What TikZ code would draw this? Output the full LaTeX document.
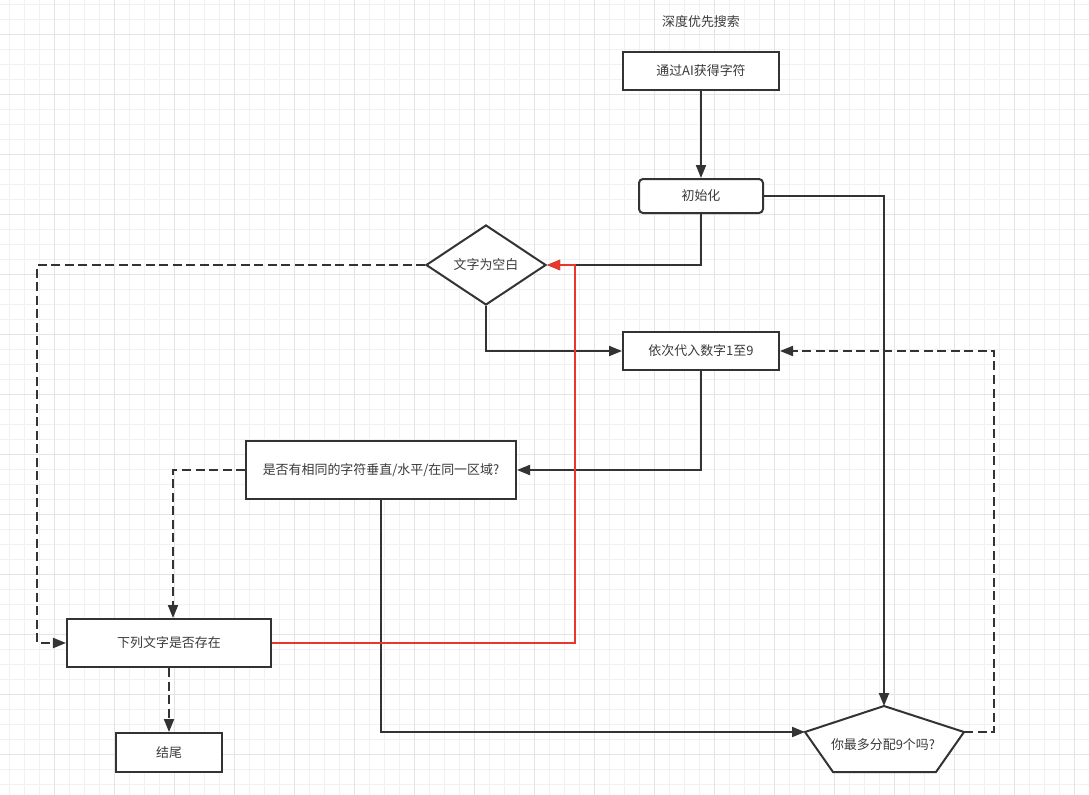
\documentclass[tikz,border=0pt]{standalone}
\usepackage{fontspec}
\setmainfont{Noto Sans CJK SC}
\usetikzlibrary{arrows.meta,shapes.geometric}
\definecolor{ink}{HTML}{333333}
\definecolor{txt}{HTML}{3A3A3A}
\definecolor{redline}{HTML}{E8382E}
\definecolor{gminor}{HTML}{F1F1F1}
\definecolor{gmajor}{HTML}{E4E4E4}
\tikzset{
  box/.style={draw=ink, line width=2bp, fill=white, text=txt, font=\fontsize{13}{15}\selectfont, inner sep=0pt},
  conn/.style={draw=ink, line width=2bp, -{Triangle[length=13bp,width=10bp]}},
  dconn/.style={conn, dash pattern=on 9bp off 4.5bp},
  rconn/.style={draw=redline, line width=2bp, -{Triangle[length=13bp,width=10bp]}},
  lbl/.style={text=txt, font=\fontsize{13}{15}\selectfont, inner sep=0pt},
}
\begin{document}
\begin{tikzpicture}[x=1bp,y=-1bp]
\useasboundingbox (0,0) rectangle (1089,795);
\fill[white] (0,0) rectangle (1089,795);
% grid
\foreach \k in {0,...,71} \draw[gminor, line width=1bp] ({9.5+15*\k},0) -- ({9.5+15*\k},795);
\foreach \k in {0,...,52} \draw[gminor, line width=1bp] (0,{4.5+15*\k}) -- (1089,{4.5+15*\k});
\foreach \k in {0,...,17} \draw[gmajor, line width=1bp] ({54.5+60*\k},0) -- ({54.5+60*\k},795);
\foreach \k in {0,...,12} \draw[gmajor, line width=1bp] (0,{34.5+60*\k}) -- (1089,{34.5+60*\k});

% title
\node[lbl] (title) at (701,22) {深度优先搜索};

% nodes
\node[box, minimum width=156bp, minimum height=38bp] (ai) at (701,71) {通过AI获得字符};
\node[box, rounded corners=4bp, minimum width=124bp, minimum height=34bp] (init) at (701,196) {初始化};
\node[box, diamond, aspect=1.5, minimum width=120bp, minimum height=80bp, inner sep=1bp] (dia) at (486,265) {文字为空白};
\node[box, minimum width=156bp, minimum height=38bp] (seq) at (701,351) {依次代入数字1至9};
\node[box, minimum width=270bp, minimum height=58bp] (same) at (381,470) {是否有相同的字符垂直/水平/在同一区域?};
\node[box, minimum width=204bp, minimum height=48bp] (exist) at (169,643) {下列文字是否存在};
\node[box, minimum width=106bp, minimum height=39bp] (end) at (169,752.5) {结尾};

% pentagon
\coordinate (ptop) at (884,706);
\coordinate (pleft) at (805,732);
\coordinate (pright) at (964,732);
\coordinate (pbr) at (936,772);
\coordinate (pbl) at (833,772);
\draw[ink, line width=2bp, fill=white, line join=miter] (ptop) -- (pright) -- (pbr) -- (pbl) -- (pleft) -- cycle;
\node[lbl] (pent) at (883,745) {你最多分配9个吗?};

% helper coordinates
\coordinate (redturn) at (575,265);
\coordinate (lft) at (37,643);
\coordinate (rgt) at (994,351);

% connectors
\draw[conn] (ai.south) -- (ai.south |- init.north);
\draw[conn] (init.east) -| (ptop);
\draw[conn] (init.south) |- (dia.east);
\draw[conn] (dia.south) |- (seq.west);
\draw[conn] (seq.south) |- (same.east);
\draw[conn] (same.south) |- (pleft);
\draw[rconn] (exist.east) -| (redturn) -- (dia.east);
\draw[dconn] (dia.west) -| (lft) -- (exist.west);
\draw[dconn] (same.west) -| ([xshift=4bp]exist.north);
\draw[dconn] (pright) -| (rgt) -- (seq.east);
\draw[dconn] (exist.south) -- (exist.south |- end.north);
\end{tikzpicture}
\end{document}
